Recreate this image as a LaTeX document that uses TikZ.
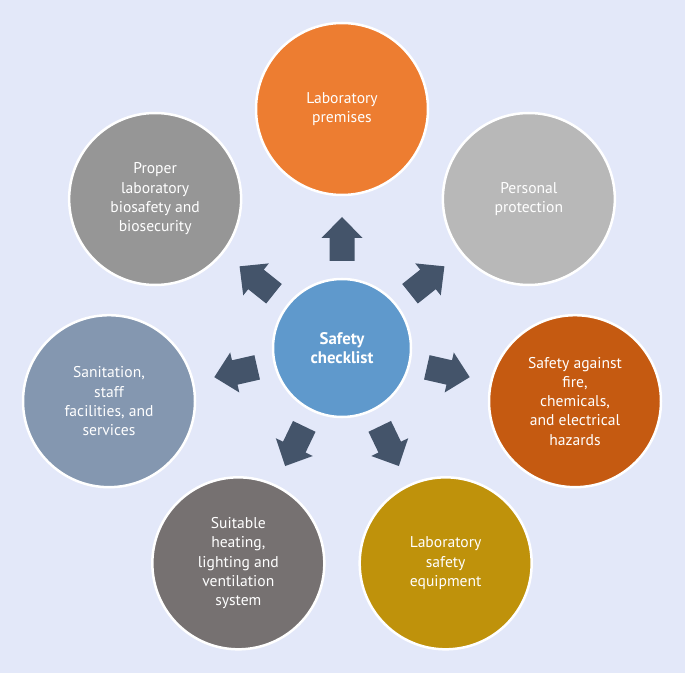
\documentclass[tikz,border=0pt]{standalone}
\usepackage{fontspec}
\setmainfont{PT Sans}
\usetikzlibrary{calc}
\definecolor{bgc}{HTML}{E3E8F9}
\definecolor{arrc}{HTML}{44546A}
\definecolor{cenc}{HTML}{5F99CC}
\definecolor{c1}{HTML}{ED7D31}
\definecolor{c2}{HTML}{B8B8B8}
\definecolor{c3}{HTML}{C55A11}
\definecolor{c4}{HTML}{BF920B}
\definecolor{c5}{HTML}{767171}
\definecolor{c6}{HTML}{8497B0}
\definecolor{c7}{HTML}{969696}
\tikzset{
  outer/.style={circle, draw=white, line width=2.5pt, minimum size=172pt, inner sep=0pt,
    align=center, text=white, font=\fontsize{15.6}{19.3}\selectfont},
  hub/.style={circle, draw=white, line width=2.5pt, fill=cenc, minimum size=138pt, inner sep=0pt,
    align=center, text=white, font=\bfseries\fontsize{16.8}{19.5}\selectfont},
  blockarrow/.style={fill=arrc}
}
\begin{document}
\begin{tikzpicture}[x=1pt,y=1pt]
\fill[bgc] (0,0) rectangle (685,673);
\useasboundingbox (0,0) rectangle (685,673);
\node[hub] (c) at (342,325) {Safety\\checklist};
\node[outer, fill=c1] (n1) at ($(c)+(90:239)$) {Laboratory\\premises};
\node[outer, fill=c2] (n2) at ($(c)+(38.57:239)$) {Personal\\protection};
\node[outer, fill=c3] (n3) at ($(c)+(-12.86:239)$) {Safety against\\fire,\\chemicals,\\and electrical\\hazards};
\node[outer, fill=c4] (n4) at ($(c)+(-64.29:239)$) {Laboratory\\safety\\equipment};
\node[outer, fill=c5] (n5) at ($(c)+(-115.71:239)$) {Suitable\\heating,\\lighting and\\ventilation\\system};
\node[outer, fill=c6] (n6) at ($(c)+(-167.14:239)$) {Sanitation,\\staff\\facilities, and\\services};
\node[outer, fill=c7] (n7) at ($(c)+(141.43:239)$) {Proper\\laboratory\\biosafety and\\biosecurity};
\foreach \a in {90,38.57,-12.86,-64.29,-115.71,-167.14,141.43}{
  \begin{scope}[shift={(c)}, rotate=\a]
    \fill[blockarrow] (87,-12.5) -- (110,-12.5) -- (110,-20.5) -- (131,0) -- (110,20.5) -- (110,12.5) -- (87,12.5) -- cycle;
  \end{scope}
}
\end{tikzpicture}
\end{document}
